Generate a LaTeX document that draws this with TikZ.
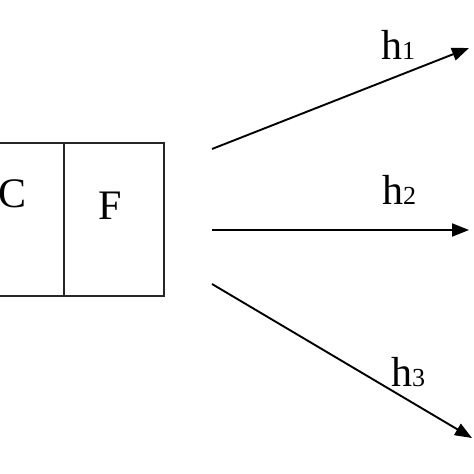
\documentclass[tikz,border=0pt]{standalone}
\usepackage{fontspec}
\setmainfont{Liberation Serif}
\usetikzlibrary{arrows.meta}
\tikzset{
  cell/.style={draw=black!85, line width=1.8pt, minimum width=100pt, minimum height=153pt, inner sep=0pt, anchor=south west},
  big/.style={font=\fontsize{42}{42}\selectfont, inner sep=0pt},
  lab/.style={inner sep=0pt, anchor=base west},
  arr/.style={line width=1.9pt, -{Triangle[length=17pt,width=13pt]}}
}
\newcommand{\hsub}[1]{{\fontsize{42}{42}\selectfont h}{\fontsize{26}{26}\selectfont #1}}
\begin{document}
\begin{tikzpicture}[x=1pt,y=1pt]
\useasboundingbox (0,0) rectangle (474,474);
\clip (0,0) rectangle (474,474);
\fill[white] (0,0) rectangle (474,474);
\node[cell] (cc) at (-37,177) {};
\node[cell] (fc) at (63,177) {};
\node[big, anchor=base] (C) at (13,266) {C};
\node[big, anchor=base] (F) at (110,254) {F};
\coordinate (s1) at (212,325);
\coordinate (e1) at (469,426);
\coordinate (s2) at (212,244);
\coordinate (e2) at (469,244);
\coordinate (s3) at (212,190);
\coordinate (e3) at (472,36);
\draw[arr] (s1) -- (e1);
\draw[arr] (s2) -- (e2);
\draw[arr] (s3) -- (e3);
\node[lab] (h1) at (381,414) {\hsub{1}};
\node[lab] (h2) at (382,269) {\hsub{2}};
\node[lab] (h3) at (391,87) {\hsub{3}};
\end{tikzpicture}
\end{document}
